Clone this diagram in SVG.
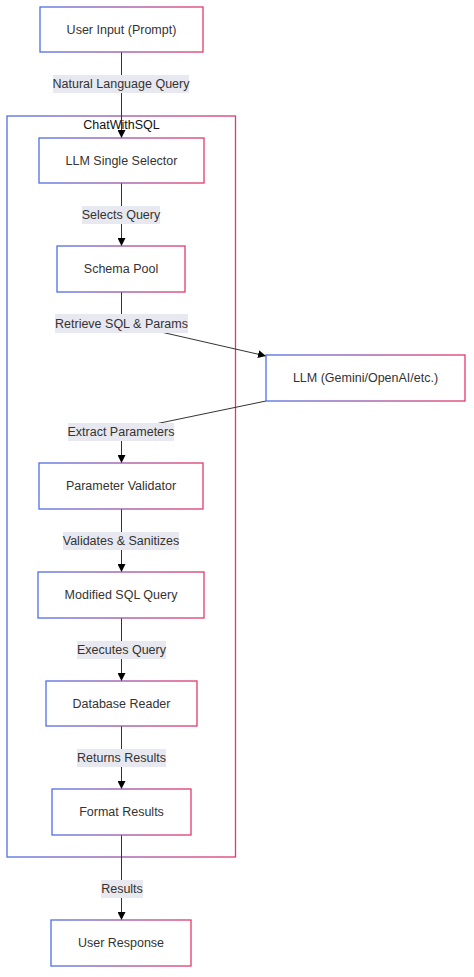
<svg xmlns="http://www.w3.org/2000/svg" width="474" height="977" viewBox="0 0 474 977">
<defs>
<linearGradient id="g" x1="0" y1="0" x2="1" y2="0">
<stop offset="0" stop-color="#4f6ee8"/>
<stop offset="1" stop-color="#e5386a"/>
</linearGradient>
<marker id="arr" viewBox="0 0 10 10" refX="10" refY="5" markerWidth="8" markerHeight="8" markerUnits="userSpaceOnUse" orient="auto">
<path d="M0,0 L10,5 L0,10 z" fill="#000"/>
</marker>
<style>
.node rect{fill:#fff;stroke:url(#g);stroke-width:1.3}
.cl{fill:#fff;stroke:url(#g);stroke-width:1.3}
text{font-family:"Liberation Sans",Arial,sans-serif;font-size:12.5px;fill:#333;text-anchor:middle;dominant-baseline:central}
.edge{fill:none;stroke:#333;stroke-width:1}
.lbl rect{fill:#e8e8f0}
</style>
</defs>
<rect width="474" height="977" fill="#fff"/>
<g id="cluster-ChatWithSQL">
<rect class="cl" x="7" y="116" width="228.5" height="741"/>
<text x="121.5" y="125" fill="#000" style="fill:#111">ChatWithSQL</text>
</g>
<g id="connectors">
<path class="edge" d="M121.5,52 L121.5,138" marker-end="url(#arr)"/>
<path class="edge" d="M121.5,183 L121.5,246" marker-end="url(#arr)"/>
<path class="edge" d="M121.5,292 L121.5,323 L266,356" marker-end="url(#arr)"/>
<path class="edge" d="M266,401 L121.5,431 L121.5,463" marker-end="url(#arr)"/>
<path class="edge" d="M121.5,509 L121.5,572" marker-end="url(#arr)"/>
<path class="edge" d="M121.5,618 L121.5,681" marker-end="url(#arr)"/>
<path class="edge" d="M121.5,726 L121.5,789" marker-end="url(#arr)"/>
<path class="edge" d="M121.5,835 L121.5,920" marker-end="url(#arr)"/>
<g class="lbl">
<rect x="53" y="75" width="136" height="18"/><text x="121" y="84">Natural Language Query</text>
<rect x="82" y="206" width="78" height="18"/><text x="121" y="215">Selects Query</text>
<rect x="55" y="314" width="133" height="19"/><text x="121.5" y="323.5">Retrieve SQL &amp; Params</text>
<rect x="68" y="423" width="106" height="18"/><text x="121" y="432">Extract Parameters</text>
<rect x="63" y="532" width="116" height="18"/><text x="121" y="541">Validates &amp; Sanitizes</text>
<rect x="77" y="641" width="89" height="18"/><text x="121.5" y="650">Executes Query</text>
<rect x="77" y="749" width="89" height="18"/><text x="121.5" y="758">Returns Results</text>
<rect x="101" y="880" width="42" height="18"/><text x="122" y="889">Results</text>
</g>
</g>
<g id="node-UserInput" class="node"><rect x="40" y="7" width="163" height="45"/><text x="121.5" y="29.5">User Input (Prompt)</text></g>
<g id="node-LLMSingleSelector" class="node"><rect x="39" y="138" width="165" height="45"/><text x="121.5" y="160.5">LLM Single Selector</text></g>
<g id="node-SchemaPool" class="node"><rect x="57" y="246" width="128" height="46"/><text x="121" y="269">Schema Pool</text></g>
<g id="node-LLM" class="node"><rect x="266" y="355" width="199" height="46"/><text x="365.5" y="378">LLM (Gemini/OpenAI/etc.)</text></g>
<g id="node-ParameterValidator" class="node"><rect x="39" y="463" width="164" height="46"/><text x="121" y="486">Parameter Validator</text></g>
<g id="node-ModifiedSQLQuery" class="node"><rect x="38" y="572" width="166" height="46"/><text x="121" y="595">Modified SQL Query</text></g>
<g id="node-DatabaseReader" class="node"><rect x="46" y="681" width="151" height="45"/><text x="121.5" y="703.5">Database Reader</text></g>
<g id="node-FormatResults" class="node"><rect x="52" y="789" width="139" height="46"/><text x="121.5" y="812">Format Results</text></g>
<g id="node-UserResponse" class="node"><rect x="51" y="920" width="140" height="46"/><text x="121" y="943">User Response</text></g>
</svg>
